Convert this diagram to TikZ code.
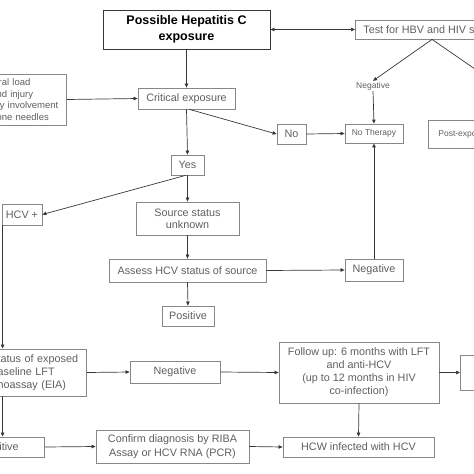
\documentclass[tikz,border=0pt]{standalone}
\usepackage{fontspec}
\setmainfont{Liberation Sans}
\usetikzlibrary{arrows.meta, positioning}
\definecolor{flowLine}{RGB}{55,55,55}
\definecolor{flowBorder}{RGB}{135,135,135}
\definecolor{flowText}{RGB}{95,95,95}

\begin{document}
\begin{tikzpicture}[x=1pt, y=-1pt,
    box/.style={draw=flowBorder, line width=0.8pt, text=flowText, inner sep=0pt, align=center,
      font=\fontsize{10.8}{12.5}\selectfont},
    link/.style={draw=flowLine, line width=0.7pt, -{Triangle[length=4pt, width=3.5pt]}}]
  \useasboundingbox (0,0) rectangle (474,474);
  \clip (0,0) rectangle (474,474);
  % top row
  \node[box, draw=flowLine, text=black, minimum width=167pt, minimum height=39pt,
    font=\bfseries\fontsize{12.5}{16}\selectfont] (expo) at (186.5,29.5) {Possible Hepatitis C\\exposure};
  \node[box, anchor=west, minimum height=19pt, inner xsep=8pt] (test) at (355,29.5) {Test for HBV and HIV status};
  \node[text=flowText, inner sep=1pt, font=\fontsize{8.5}{10}\selectfont] (negHbv) at (373,86) {Negative};
  \node[box, minimum width=58pt, minimum height=19pt, font=\fontsize{8.5}{10}\selectfont] (noTherapy) at (374,133.5) {No Therapy};
  \node[box, minimum width=29pt, minimum height=20pt] (no) at (291.5,134) {No};
  \node[box, anchor=west, minimum height=28pt, inner xsep=10pt, font=\fontsize{8.5}{10}\selectfont] (post) at (428,134) {Post-exposure};
  \coordinate (postTop) at (549,120);
  % exposure branch
  \node[box, minimum width=97pt, minimum height=21pt] (crit) at (186.5,98.5) {Critical exposure};
  \node[box, anchor=east, minimum height=51pt, inner xsep=4pt, text width=66pt, align=left,
    font=\fontsize{9.5}{11.7}\selectfont] (risk) at (67,99.5) {iral load\\nd injury\\ry involvement\\one needles};
  \node[box, minimum width=33pt, minimum height=20pt] (yes) at (187.5,165) {Yes};
  \node[box, minimum width=40pt, minimum height=21pt] (hcvPos) at (22,214.5) {HCV +};
  \node[box, minimum width=103pt, minimum height=33pt, font=\fontsize{10.8}{12}\selectfont] (source) at (187.5,218.5) {Source status\\unknown};
  \node[box, minimum width=157pt, minimum height=23pt] (assess) at (187.5,270.5) {Assess HCV status of source};
  \node[box, minimum width=58pt, minimum height=22pt] (negSource) at (374,270) {Negative};
  \node[box, minimum width=52pt, minimum height=20pt] (posSource) at (188,316) {Positive};
  % bottom part
  \node[box, anchor=east, minimum height=47pt, inner xsep=3pt, text width=86pt, align=left,
    font=\fontsize{10.8}{13}\selectfont] (eia) at (87,372.5) {tatus of exposed\\aseline LFT\\noassay (EIA)};
  \node[box, minimum width=90pt, minimum height=22pt] (negHcw) at (175,372) {Negative};
  \node[box, minimum width=160pt, minimum height=61pt, font=\fontsize{10.8}{12.9}\selectfont] (follow) at (359,372.5)
    {Follow up: 6 months with LFT\\and anti-HCV\\(up to 12 months in HIV\\co-infection)};
  \node[box, anchor=west, minimum width=40pt, minimum height=35pt] (cleared) at (460,372.5) {};
  \node[box, anchor=east, minimum height=20pt, inner xsep=0pt, text width=64pt, align=right] (posHcw) at (45,447)
    {Positive\hspace*{26pt}};
  \node[box, minimum width=153pt, minimum height=33pt, font=\fontsize{10.8}{14}\selectfont] (confirm) at (172.5,446.5)
    {Confirm diagnosis by RIBA\\Assay or HCV RNA (PCR)};
  \node[box, minimum width=151pt, minimum height=20pt] (infected) at (358.5,447) {HCW infected with HCV};
  % connectors
  \draw[link, {Triangle[length=4pt, width=3.5pt]}-{Triangle[length=4pt, width=3.5pt]}] (expo.east) -- (test.west);
  \draw[link] ([xshift=77pt]test.south west) -- (negHbv.north);
  \draw[draw=flowLine, line width=0.7pt] ([xshift=77pt]test.south west) -- (postTop);
  \draw[link] (negHbv.south) -- (noTherapy.north);
  \draw[link] (expo.south) -- (crit.north);
  \draw[link] (risk.east) -- (crit.west);
  \draw[link] ([xshift=3pt]crit.south) -- (no.west);
  \draw[link] (no.east) -- (noTherapy.west);
  \draw[link] (negSource.north) -- (noTherapy.south);
  \draw[link] (crit.south) -- (yes.north);
  \draw[link] ([xshift=-2pt]yes.south) -- (hcvPos.east);
  \draw[link] (yes.south) -- (source.north);
  \draw[link] (source.south) -- (assess.north);
  \draw[link] (assess.east) -- (negSource.west);
  \draw[link] (assess.south) -- (posSource.north);
  \draw[link] ([xshift=1pt]hcvPos.south west) -- ([xshift=1pt]hcvPos.south west |- eia.north);
  \draw[link] ([xshift=1pt]hcvPos.south west |- eia.south) -- ([xshift=1pt]hcvPos.south west |- posHcw.north);
  \draw[link] (eia.east) -- (negHcw.west);
  \draw[link] (negHcw.east) -- (follow.west);
  \draw[link] (follow.east) -- (cleared.west);
  \draw[link] (follow.south) -- (infected.north);
  \draw[link] (posHcw.east) -- (confirm.west);
  \draw[link] (confirm.east) -- (infected.west);
\end{tikzpicture}
\end{document}
